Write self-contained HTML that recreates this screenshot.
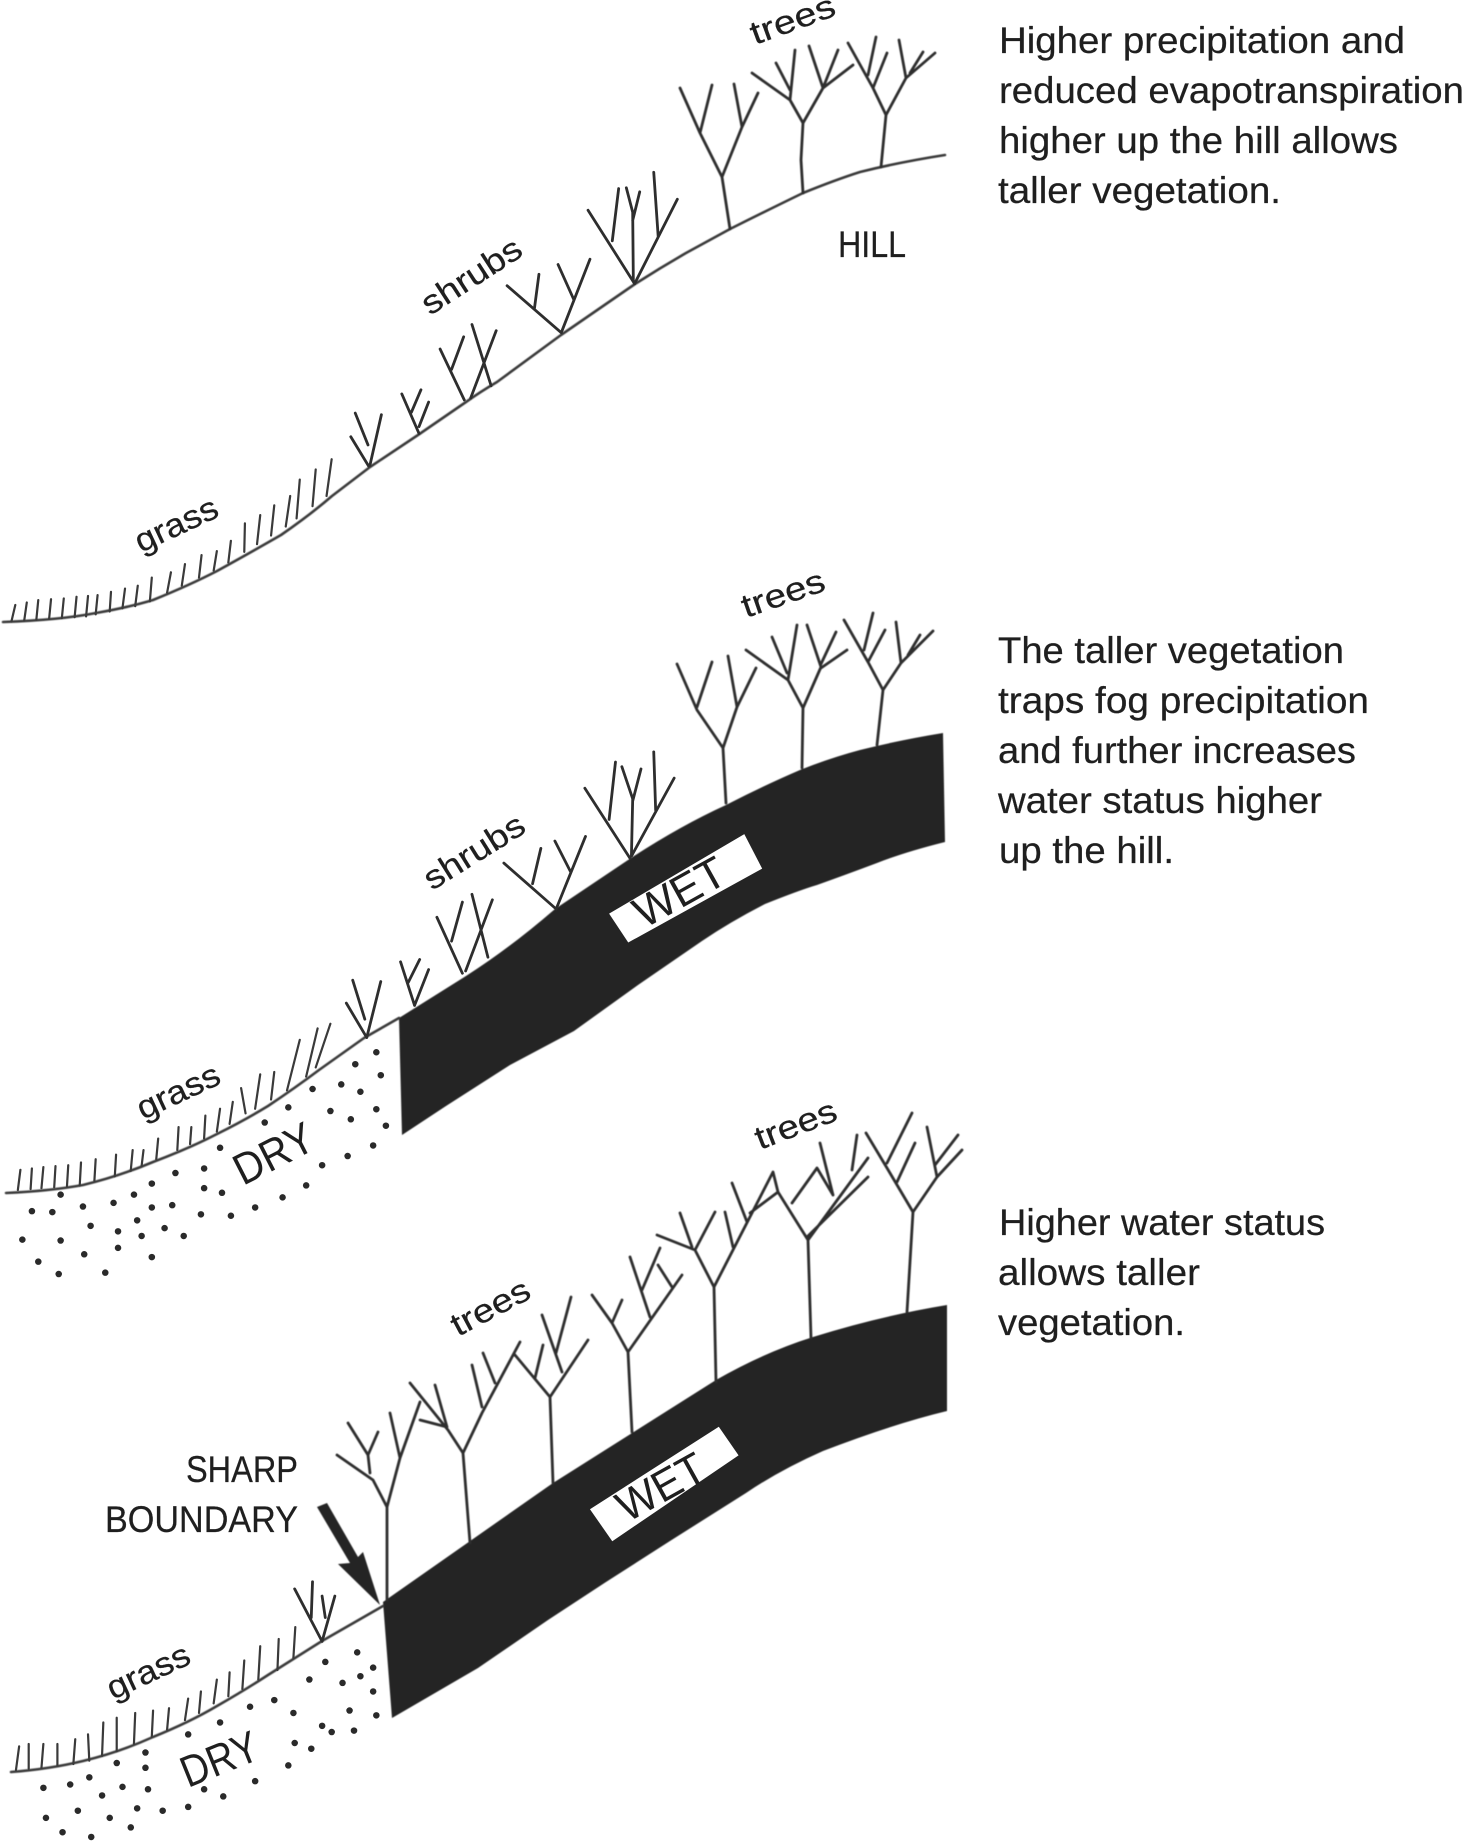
<!DOCTYPE html>
<html><head><meta charset="utf-8"><style>
html,body{margin:0;padding:0;background:#fff}
svg{display:block}
path{fill:none;stroke:#2e2e2e;stroke-width:2.8;stroke-linecap:round;stroke-linejoin:round;vector-effect:non-scaling-stroke}
path.h{stroke-width:2.6;stroke:#3a3a3a}
path.b{fill:#242424;stroke:none}
path.w{fill:#fff;stroke:none}
path.d{stroke:#2a2a2a;stroke-width:6.5}
path.g{stroke-width:2.2;stroke:#3a3a3a}
.soft{filter:blur(.45px)}
text{font-family:"Liberation Sans",sans-serif;fill:#1f1f1f;font-size:37px;stroke:#1f1f1f;stroke-width:.25px}
.r{font-size:33px}
.c{font-size:44px;stroke-width:0}
</style></head><body>
<svg width="1465" height="1848" viewBox="0 0 1465 1848" xmlns="http://www.w3.org/2000/svg">
<rect width="1465" height="1848" fill="#fff"/>

<g class="soft">
<!-- black wet bands -->
<path class="b" d="M399 1018L466 976Q510 948 555 909L631 858Q680 826 726 805Q765 785 800 770Q830 758 860 750Q900 740 943 733L945 842Q905 852 877 863Q845 875 817 885Q800 890 765 904Q730 922 702 941L638 985L574 1031L510 1065L446 1106L402 1135Z"/>
<path class="b" d="M383 1602L553 1483Q640 1428 716 1380Q765 1352 813 1337Q880 1316 947 1305L947 1411Q893 1424 823 1451Q780 1470 746 1493L670 1541L606 1582L548 1620L478 1668L392 1718Z"/>

<!-- hill lines -->
<path class="h" d="M3 622Q60 620 96 613Q130 607 153 600Q190 585 217 571Q255 550 281 535Q310 515 332 496L370 467L418 435L466 402Q480 392 497 382L561 335L635 284Q660 268 686 253L730 229Q770 209 803 193Q835 180 860 172Q900 162 945 155"/>
<path class="h" d="M6 1193Q50 1191 83 1185Q120 1176 153 1162Q190 1148 217 1134Q245 1120 268 1106Q295 1088 319 1070L364 1038L399 1018"/>
<path class="h" d="M11 1772Q50 1769 83 1761Q120 1752 153 1737Q190 1722 217 1706Q245 1690 268 1675L322 1641L383 1606"/>

<!-- trees: panel 1 -->
<path d="M730 229L722 177L700 133L680 88M700 133L712 85M722 177L742 127L758 93M742 127L734 84M803 193L801 160L803 123L790 100L752 73M790 100L795 50M790 90L776 63M803 123L823 88L809 46M823 88L838 50M823 88L853 65M881 167L886 115L873 88L848 43M868 75L876 37M873 88L887 53M886 115L906 78L899 40M906 78L935 53M910 73L923 52"/>
<!-- trees: panel 2 -->
<path d="M726 803L723 748L697 710L677 664M697 707L712 662M723 748L737 707L756 668M737 707L728 656M802 768L803 708L788 680L746 650M788 680L797 625M787 673L772 637M803 708L821 667L807 625M821 664L836 632M821 668L847 650M877 745L883 690L868 662L844 620M864 650L873 613M868 662L885 630M883 690L901 663L896 622M901 663L933 631M908 655L920 635"/>
<!-- trees: panel 3 -->
<path d="M387 1600L387 1507L373 1480L337 1455M370 1473L368 1455L348 1423M368 1455L378 1432M387 1507L400 1458L420 1402M400 1458L390 1413M470 1543L463 1453L448 1430L410 1383M447 1427L420 1420M447 1427L435 1385M463 1453L482 1413L520 1342M482 1407L472 1365M495 1383L483 1353M553 1483L550 1397L515 1355M535 1378L543 1345M550 1397L588 1340M562 1372L542 1315M556 1353L571 1297M632 1432L628 1352L612 1323L592 1295M612 1323L622 1300M628 1352L682 1275M650 1317L630 1257M642 1290L660 1248M658 1265L672 1287M716 1382L714 1287L695 1250L657 1235M692 1247L680 1213M695 1250L715 1212M714 1287L773 1172L778 1192M733 1247L725 1212M747 1222L732 1183M750 1213L778 1192M811 1338L808 1240L778 1192M792 1203L817 1168L833 1195M808 1240L868 1158M808 1236L868 1177M833 1195L820 1143M852 1170L857 1135M907 1312L913 1212L887 1168L866 1133M887 1163L912 1113M897 1182L915 1143M913 1212L937 1177L927 1127M937 1177L962 1150M935 1165L958 1135"/>
<!-- arrow -->
<path class="b" d="M317 1507L327 1503L358 1557L363 1552L380 1605L338 1564L350 1563Z"/>
</g>

<g class="soft" transform="scale(.6378 .4082)">
<path class="g" d="M18 1522L24 1482M38 1520L42 1476M57 1518L60 1470M77 1516L80 1468M97 1514L100 1466M117 1512L120 1462M135 1510L138 1460M150 1505L153 1458M172 1498L174 1450M192 1490L196 1442M212 1485L216 1435M235 1473L238 1415M262 1452L268 1402M285 1435L290 1382M312 1415L316 1360M335 1398L340 1350M358 1378L362 1325M383 1352L384 1282M403 1333L408 1262M425 1312L430 1238M448 1290L455 1215M465 1270L470 1175M490 1240L495 1150M512 1215L520 1125"/>
<path d="M578 1142L550 1070M580 1140L598 1016M577 1090L557 1012M657 1062L630 965M645 1010L660 955M657 1045L672 985M728 980L690 855M708 905L727 825M738 975L778 810M770 945L740 795M880 815L795 700M838 755L845 672M880 815L925 635M900 735L875 648M995 695L922 515M960 590L970 462M993 690L992 520L982 460M992 540L1003 470M995 695L1062 488M1032 580L1025 422"/>
</g>

<g class="soft" transform="translate(0 560) scale(.6378 .4592)">
<path class="w" d="M955 770L1167 597L1195 672L985 833Z"/>
<path class="g" d="M28 1372L32 1328M48 1370L50 1325M65 1368L68 1322M85 1366L87 1320M105 1364L107 1318M125 1362L127 1312M148 1352L150 1305M180 1342L182 1295M205 1330L208 1285M222 1320L225 1285M245 1305L248 1260M278 1285L280 1235M298 1272L300 1235M320 1260L322 1210M340 1245L345 1195M360 1228L365 1180M385 1205L378 1150M400 1195L408 1120M425 1175L430 1115M450 1155L470 1045M480 1125L498 1020M495 1105L518 1010"/>
<path d="M575 1040L543 965M575 1040L597 918M572 1000L553 915M650 970L628 875M640 920L658 870M650 970L672 892M725 900L685 778M708 830L725 745M730 895L772 740M765 865L740 728M872 760L790 660M835 705L848 628M872 760L918 602M895 680L870 612M988 650L917 497M955 565L965 440M990 645L992 520L975 450M992 525L1005 455M990 645L1057 475M1028 545L1025 418"/>
<path class="d" d="M95 1382h.1M50 1418h.1M82 1420h.1M130 1408h.1M178 1400h.1M210 1382h.1M238 1358h.1M275 1335h.1M320 1325h.1M345 1280h.1M320 1368h.1M348 1378h.1M270 1405h.1M238 1410h.1M142 1450h.1M215 1438h.1M185 1462h.1M258 1455h.1M288 1472h.1M222 1472h.1M35 1480h.1M95 1482h.1M132 1512h.1M185 1498h.1M238 1518h.1M60 1528h.1M92 1555h.1M165 1552h.1M315 1425h.1M362 1428h.1M400 1410h.1M443 1388h.1M480 1362h.1M505 1318h.1M545 1298h.1M585 1275h.1M605 1232h.1M590 1196h.1M550 1218h.1M518 1200h.1M565 1158h.1M597 1122h.1M535 1142h.1M557 1098h.1M590 1072h.1M490 1152h.1M452 1192h.1M415 1225h.1"/>
</g>

<g class="soft" transform="translate(0 1100) scale(.6378 .477)">
<path class="w" d="M925 858L1127 685L1158 745L960 925Z"/>
<path class="g" d="M25 1405L30 1355M45 1402L45 1350M65 1400L68 1350M90 1395L90 1350M115 1392L118 1340M140 1385L138 1330M160 1375L162 1305M183 1365L183 1295M210 1350L212 1285M238 1335L240 1280M262 1320L265 1275M290 1300L295 1255M312 1285L315 1240M335 1265L340 1215M358 1250L360 1200M380 1235L383 1175M405 1215L408 1145M435 1195L437 1130M460 1170L463 1105"/>
<path d="M505 1135L462 1025M488 1085L490 1010M505 1135L525 1040M510 1085L505 1040"/>
<path class="d" d="M560 1158h.1M510 1178h.1M585 1190h.1M565 1208h.1M537 1222h.1M485 1215h.1M585 1240h.1M548 1280h.1M430 1258h.1M392 1272h.1M460 1285h.1M345 1305h.1M295 1330h.1M505 1312h.1M520 1325h.1M555 1322h.1M590 1290h.1M462 1348h.1M488 1360h.1M452 1395h.1M400 1428h.1M228 1368h.1M228 1400h.1M183 1390h.1M140 1420h.1M110 1435h.1M68 1442h.1M160 1458h.1M192 1440h.1M232 1445h.1M320 1445h.1M350 1460h.1M72 1505h.1M122 1490h.1M172 1505h.1M215 1485h.1M255 1490h.1M295 1482h.1M98 1535h.1M143 1545h.1M205 1525h.1"/>
</g>

<!-- rotated labels -->
<text class="r" transform="translate(755 45) rotate(-20)" textLength="88" lengthAdjust="spacingAndGlyphs">trees</text>
<text class="r" transform="translate(430 316) rotate(-33)" textLength="113" lengthAdjust="spacingAndGlyphs">shrubs</text>
<text class="r" transform="translate(141 553) rotate(-25)" textLength="88" lengthAdjust="spacingAndGlyphs">grass</text>
<text x="838" y="257" textLength="68" lengthAdjust="spacingAndGlyphs">HILL</text>
<text class="r" transform="translate(746 618) rotate(-19)" textLength="86" lengthAdjust="spacingAndGlyphs">trees</text>
<text class="r" transform="translate(432 891) rotate(-32)" textLength="113" lengthAdjust="spacingAndGlyphs">shrubs</text>
<text class="r" transform="translate(143 1120) rotate(-25)" textLength="88" lengthAdjust="spacingAndGlyphs">grass</text>
<text class="r" transform="translate(760 1150) rotate(-21)" textLength="85" lengthAdjust="spacingAndGlyphs">trees</text>
<text class="r" transform="translate(458 1337) rotate(-28)" textLength="85" lengthAdjust="spacingAndGlyphs">trees</text>
<text class="r" transform="translate(113 1700) rotate(-25)" textLength="88" lengthAdjust="spacingAndGlyphs">grass</text>
<text x="186" y="1482" textLength="112" lengthAdjust="spacingAndGlyphs">SHARP</text>
<text x="105" y="1532" textLength="193" lengthAdjust="spacingAndGlyphs">BOUNDARY</text>
<text class="c" transform="translate(644 929) rotate(-29)" textLength="98" lengthAdjust="spacingAndGlyphs">WET</text>
<text class="c" transform="translate(627 1523) rotate(-29)" textLength="94" lengthAdjust="spacingAndGlyphs">WET</text>
<text class="c" transform="translate(243 1186) rotate(-27)" textLength="84" lengthAdjust="spacingAndGlyphs">DRY</text>
<text class="c" transform="translate(188 1788) rotate(-22)" textLength="80" lengthAdjust="spacingAndGlyphs">DRY</text>

<!-- right-side text -->
<text x="999" y="53" textLength="406" lengthAdjust="spacingAndGlyphs">Higher precipitation and</text>
<text x="999" y="103" textLength="465" lengthAdjust="spacingAndGlyphs">reduced evapotranspiration</text>
<text x="999" y="153" textLength="399" lengthAdjust="spacingAndGlyphs">higher up the hill allows</text>
<text x="998" y="203" textLength="283" lengthAdjust="spacingAndGlyphs">taller vegetation.</text>
<text x="998" y="663" textLength="346" lengthAdjust="spacingAndGlyphs">The taller vegetation</text>
<text x="998" y="713" textLength="371" lengthAdjust="spacingAndGlyphs">traps fog precipitation</text>
<text x="998" y="763" textLength="358" lengthAdjust="spacingAndGlyphs">and further increases</text>
<text x="998" y="813" textLength="324" lengthAdjust="spacingAndGlyphs">water status higher</text>
<text x="999" y="863" textLength="175" lengthAdjust="spacingAndGlyphs">up the hill.</text>
<text x="999" y="1235" textLength="326" lengthAdjust="spacingAndGlyphs">Higher water status</text>
<text x="998" y="1285" textLength="202" lengthAdjust="spacingAndGlyphs">allows taller</text>
<text x="998" y="1335" textLength="187" lengthAdjust="spacingAndGlyphs">vegetation.</text>
</svg>
</body></html>
